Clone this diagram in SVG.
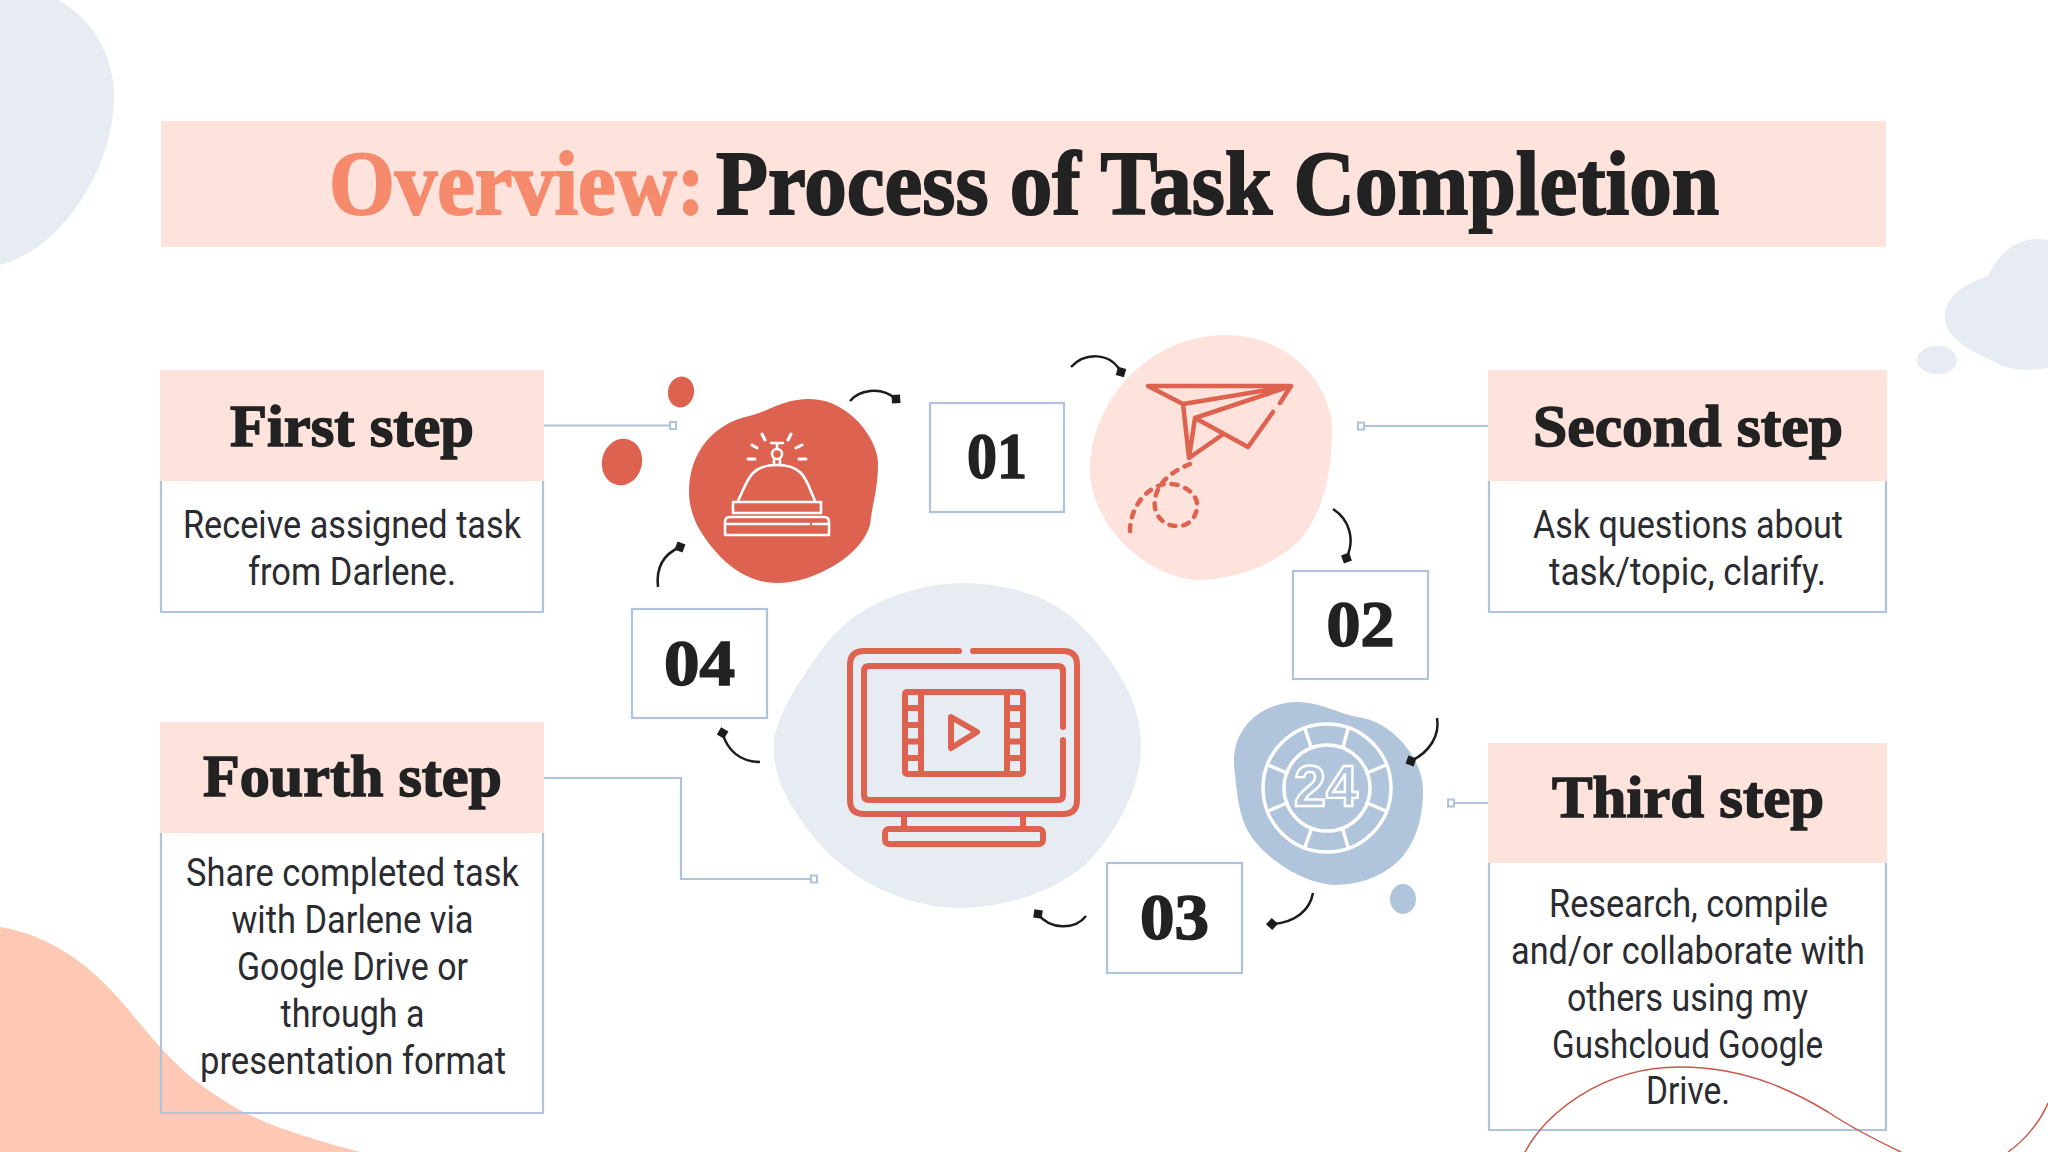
<svg xmlns="http://www.w3.org/2000/svg" width="2048" height="1152" viewBox="0 0 2048 1152">
<style>
.hd{font-family:"Liberation Serif","Noto Serif",serif;font-weight:700;fill:#222;stroke:#222;stroke-width:1.5}
.tt{font-size:92px;stroke-width:2}
.sh{font-size:60px}
.nm{font-size:66px;stroke-width:1.6}
.bd{font-family:"Liberation Sans Narrow","Roboto","Liberation Sans",sans-serif;font-size:38px;fill:#2a2c31}
.bx{fill:none;stroke:#afc4dc;stroke-width:2.2}
.hb{fill:#fde3dc}
.cn{fill:none;stroke:#afc4dc;stroke-width:2.2}
.sq{fill:#fff;stroke:#afc4dc;stroke-width:2}
.ar{fill:none;stroke:#1c1c1c;stroke-width:2.5;marker-end:url(#dm)}
.ir{fill:none;stroke:#dd6350;stroke-linecap:round;stroke-linejoin:round}
.iw{fill:none;stroke:#fff;stroke-linecap:round;stroke-linejoin:round}
</style>
<defs>
<marker id="dm" markerUnits="userSpaceOnUse" markerWidth="16" markerHeight="16" refX="8" refY="8" orient="auto"><polygon points="2,8 8,2 14,8 8,14" fill="#1c1c1c"/></marker>
</defs>
<rect width="2048" height="1152" fill="#fff"/>
<g id="background">
<path d="M0 0H58C95 20 114 60 114 95C114 170 60 250 0 265Z" fill="#e7ecf3"/>
<path d="M2048 240C2020 235 2000 250 1988 276C1960 285 1943 300 1945 320C1948 345 1985 355 2000 365C2020 372 2035 370 2048 368Z" fill="#e7ecf3"/>
<ellipse cx="1937" cy="360" rx="20" ry="14" fill="#e7ecf3"/>
<path d="M0 927C50 935 90 965 120 1000C150 1035 175 1070 220 1098C260 1125 310 1138 360 1152H0Z" fill="#fdc9b5"/>
<path d="M2008 1152C2025 1140 2040 1122 2048 1103" fill="none" stroke="#c9574a" stroke-width="1.5"/>
</g>
<g id="title">
<rect x="161" y="121" width="1725" height="126" class="hb"/>
<text x="329" y="214" textLength="376" lengthAdjust="spacingAndGlyphs" class="hd tt" style="fill:#f68a6d;stroke:#f68a6d">Overview:</text>
<text x="716" y="214" textLength="1003" lengthAdjust="spacingAndGlyphs" class="hd tt">Process of Task Completion</text>
</g>
<g id="step1-icon">
<ellipse cx="681" cy="392" rx="13" ry="15.500" fill="#dd6350" transform="rotate(10 681 392)"/>
<ellipse cx="622" cy="462" rx="20" ry="23.500" fill="#dd6350" transform="rotate(14 622 462)"/>
<path d="M745 417C770 412 780 399 811 399C850 400 878 440 878 463C878 490 872 505 870 525C862 555 815 583 777 583C735 583 708 545 697 525C690 510 689 500 689 490C690 450 715 425 745 417Z" fill="#dd6350"/>
<g class="iw" stroke-width="2.600">
<path d="M725 535V522Q725 517 730 517H824Q829 517 829 522V535ZM727 524H809M813 524H829"/>
<rect x="733" y="502" width="88" height="11"/>
<path d="M738 501C748 480 750 465 777 465C804 465 806 480 815 501"/>
<circle cx="777" cy="454" r="5"/>
<path d="M774 465V460M780 465V460M771 443H783M777 443V449"/>
<path d="M748 459H755M799 459H806M752 445L757 448M802 445L796 448M762 434L765 440M791 434L788 440" stroke-width="3"/>
</g>
</g>
<g id="step2-icon">
<path d="M1090 470C1090 400 1150 335 1225 335C1290 335 1332 385 1332 430C1332 470 1325 510 1300 540C1270 570 1225 580 1195 580C1140 575 1090 520 1090 470Z" fill="#fde3dc"/>
<g class="ir" stroke-width="4.500">
<path d="M1280 403L1291 386H1148L1183 404L1291 386M1183 404L1189 458L1222 435M1189 458L1195 418L1291 386M1195 418L1248 447L1273 412"/>
<path d="M1190 464C1175 470 1160 480 1156 495C1150 515 1165 527 1178 526C1192 526 1198 513 1197 503C1195 490 1178 483 1168 484C1150 484 1130 505 1130 531" stroke-dasharray="6 8"/>
</g>
</g>
<g id="step3-icon">
<path d="M1234 765C1232 725 1265 702 1297 702C1325 703 1340 715 1363 718C1395 725 1423 760 1423 790C1423 820 1415 850 1390 868C1370 882 1350 885 1333 885C1295 882 1255 850 1245 825C1237 805 1237 790 1234 765Z" fill="#b0c4db"/>
<ellipse cx="1403" cy="899" rx="13" ry="15" fill="#b0c4db"/>
<g class="iw" stroke-width="3.500">
<circle cx="1327" cy="788" r="64"/><circle cx="1327" cy="788" r="43"/>
<path d="M1305 729L1311 747M1348 729L1343 747M1268 765L1287 773M1386 765L1367 773M1268 811L1287 803M1386 811L1367 803M1305 847L1311 830M1348 847L1343 830"/>
</g>
<text x="1294" y="806" textLength="64" lengthAdjust="spacingAndGlyphs" font-family="Liberation Sans, sans-serif" font-weight="700" font-size="58" fill="none" stroke="#fff" stroke-width="2.400">24</text>
</g>
<g id="step4-icon">
<path d="M774 745C775 715 800 680 825 645C860 600 920 583 966 583C1020 585 1060 600 1090 635C1125 675 1141 710 1141 745C1141 790 1115 835 1085 865C1050 895 1000 908 955 908C900 905 855 880 825 850C790 810 773 780 774 745Z" fill="#e7ecf3"/>
<g class="ir" stroke-width="6">
<path d="M959 651H864Q850 651 850 665V800Q850 814 864 814H1063Q1077 814 1077 800V665Q1077 651 1063 651H973"/>
<path d="M1063 727V671Q1063 666 1058 666H869Q864 666 864 671V795Q864 800 869 800H1058Q1063 800 1063 795V740"/>
<path d="M904 814V829M1023 814V829"/>
<rect x="885" y="829" width="158" height="15" rx="4"/>
<rect x="905" y="692" width="118" height="82" rx="2"/>
<path d="M921 692V774M1007 692V774M905 708H921M905 725H921M905 741.500H921M905 758H921M1007 708H1023M1007 725H1023M1007 741.500H1023M1007 758H1023"/>
<path d="M951 717L977 732L951 748Z"/>
</g>
</g>
<g id="connectors">
<path class="cn" d="M544 425.500H670"/><rect class="sq" x="670" y="422" width="6" height="7"/>
<path class="cn" d="M1364 426H1488"/><rect class="sq" x="1358" y="422.500" width="6" height="7"/>
<path class="cn" d="M1454 803H1488"/><rect class="sq" x="1448" y="799.500" width="6" height="7"/>
<path class="cn" d="M544 778H681V879H811"/><rect class="sq" x="811" y="875.500" width="6" height="7"/>
<path class="ar" d="M850 401C858 391 880 385 896 399"/>
<path class="ar" d="M1071 367C1085 352 1110 352 1121 372"/>
<path class="ar" d="M1333 509C1350 520 1355 540 1346.500 558"/>
<path class="ar" d="M1437 718C1440 735 1430 752 1411 761"/>
<path class="ar" d="M1313 893C1310 910 1295 923 1272 924"/>
<path class="ar" d="M1086 916C1075 930 1050 930 1038 914"/>
<path class="ar" d="M760 762C740 762 727 750 722.600 733"/>
<path class="ar" d="M658 587C656 570 662 555 680 547"/>
</g>
<g id="num-01"><rect class="bx" x="930" y="403" width="134" height="109"/><text class="hd nm" x="967" y="478" textLength="60" lengthAdjust="spacingAndGlyphs">01</text></g>
<g id="num-02"><rect class="bx" x="1293" y="571" width="135" height="108"/><text class="hd nm" x="1326.500" y="646" textLength="68" lengthAdjust="spacingAndGlyphs">02</text></g>
<g id="num-03"><rect class="bx" x="1107" y="863" width="135" height="110"/><text class="hd nm" x="1140" y="939" textLength="69" lengthAdjust="spacingAndGlyphs">03</text></g>
<g id="num-04"><rect class="bx" x="632" y="609" width="135" height="109"/><text class="hd nm" x="664" y="685" textLength="71" lengthAdjust="spacingAndGlyphs">04</text></g>
<g id="first-step">
<path class="bx" d="M161 478V612H543V478"/><rect class="hb" x="160" y="370" width="384" height="111"/>
<text class="hd sh" x="230" y="446" textLength="244" lengthAdjust="spacingAndGlyphs">First step</text>
<text class="bd" x="183" y="538" textLength="338" lengthAdjust="spacingAndGlyphs">Receive assigned task</text>
<text class="bd" x="248" y="585" textLength="208" lengthAdjust="spacingAndGlyphs">from Darlene.</text>
</g>
<g id="second-step">
<path class="bx" d="M1489 478V612H1886V478"/><rect class="hb" x="1488" y="370" width="399" height="111"/>
<text class="hd sh" x="1533" y="446" textLength="310" lengthAdjust="spacingAndGlyphs">Second step</text>
<text class="bd" x="1533" y="538" textLength="310" lengthAdjust="spacingAndGlyphs">Ask questions about</text>
<text class="bd" x="1549" y="585" textLength="277" lengthAdjust="spacingAndGlyphs">task/topic, clarify.</text>
</g>
<g id="third-step">
<path class="bx" d="M1489 860V1130H1886V860"/><rect class="hb" x="1488" y="743" width="399" height="120"/>
<text class="hd sh" x="1552" y="817" textLength="272" lengthAdjust="spacingAndGlyphs">Third step</text>
<text class="bd" x="1549" y="917" textLength="279" lengthAdjust="spacingAndGlyphs">Research, compile</text>
<text class="bd" x="1511" y="964" textLength="354" lengthAdjust="spacingAndGlyphs">and/or collaborate with</text>
<text class="bd" x="1567" y="1011" textLength="241" lengthAdjust="spacingAndGlyphs">others using my</text>
<text class="bd" x="1552" y="1058" textLength="271" lengthAdjust="spacingAndGlyphs">Gushcloud Google</text>
<text class="bd" x="1646" y="1104" textLength="84" lengthAdjust="spacingAndGlyphs">Drive.</text>
</g>
<g id="fourth-step">
<path class="bx" d="M161 830V1113H543V830"/><rect class="hb" x="160" y="722" width="384" height="111"/>
<text class="hd sh" x="203" y="796" textLength="299" lengthAdjust="spacingAndGlyphs">Fourth step</text>
<text class="bd" x="186" y="886" textLength="333" lengthAdjust="spacingAndGlyphs">Share completed task</text>
<text class="bd" x="231.500" y="933" textLength="242" lengthAdjust="spacingAndGlyphs">with Darlene via</text>
<text class="bd" x="237" y="980" textLength="231" lengthAdjust="spacingAndGlyphs">Google Drive or</text>
<text class="bd" x="280.500" y="1027" textLength="144" lengthAdjust="spacingAndGlyphs">through a</text>
<text class="bd" x="200" y="1074" textLength="306" lengthAdjust="spacingAndGlyphs">presentation format</text>
</g>
<path d="M1525 1152C1545 1115 1600 1067 1680 1067C1750 1067 1800 1095 1828 1112C1855 1130 1880 1142 1901 1152" fill="none" stroke="#c9574a" stroke-width="1.500"/>
</svg>
